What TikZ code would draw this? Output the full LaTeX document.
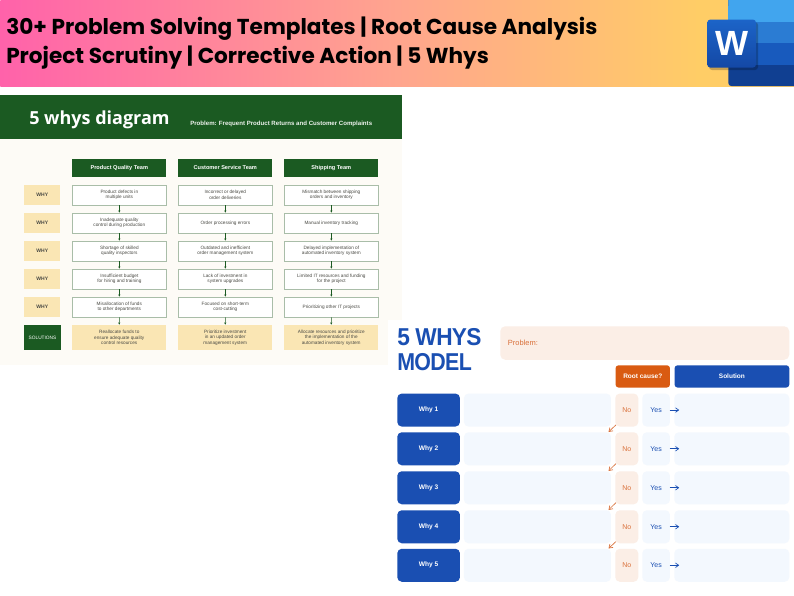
\documentclass[tikz,border=0pt]{standalone}
\usepackage{fontspec}
\setmainfont{Liberation Sans}
\newfontfamily\ttlfont{Poppins}
\newfontfamily\subfont{Open Sans}
\newfontfamily\modelfont[LetterSpace=-3]{Liberation Sans}
\usetikzlibrary{arrows.meta}
\definecolor{gdark}{HTML}{1B5A22}
\definecolor{cream}{HTML}{FDFBF6}
\definecolor{tagy}{HTML}{FAE6B4}
\definecolor{gline}{HTML}{A9BDA8}
\definecolor{txt}{HTML}{4A4A44}
\definecolor{mblue}{HTML}{1A4FB2}
\definecolor{morange}{HTML}{D95B12}
\definecolor{peach}{HTML}{FBEEE6}
\definecolor{pale}{HTML}{F3F8FE}
\definecolor{nooc}{HTML}{D9703A}
\definecolor{bana}{HTML}{FF62AA}
\definecolor{banb}{HTML}{FFA58E}
\definecolor{banc}{HTML}{FFCD66}
\pgfdeclarehorizontalshading{bannershade}{100bp}{color(0bp)=(bana); color(25bp)=(bana); color(50bp)=(banb); color(69bp)=(banc); color(100bp)=(banc)}
\def\u{0.75pt}
\newcommand{\pxfont}[2]{\fontsize{\fpeval{#1*0.75}pt}{\fpeval{#2*0.75}pt}\selectfont}
\tikzset{
 x=0.75pt,y=-0.75pt,
 box/.style={inner sep=0pt,align=center,anchor=north west},
 teamhead/.style={box,fill=gdark,text=white,font=\pxfont{5.6}{7}\bfseries,minimum width=94*\u,minimum height=18*\u},
 whytag/.style={box,fill=tagy,text=txt,font=\pxfont{5}{6}\bfseries,minimum width=36*\u,minimum height=19.5*\u},
 soltag/.style={box,fill=gdark,text=white,font=\pxfont{4.8}{6},minimum width=36.5*\u,minimum height=25*\u},
 cause/.style={box,draw=gline,line width=0.5pt,fill=white,text=txt,font=\pxfont{4.7}{5.3},minimum width=94*\u,minimum height=20*\u},
 sol/.style={box,fill=tagy,text=txt,font=\pxfont{4.7}{5.5},minimum width=94*\u,minimum height=25*\u},
 down/.style={draw=gdark,line width=0.35pt,-{Stealth[length=1.6pt,width=1.6pt]}},
 rbox/.style={box,rounded corners=4.5*\u,minimum height=33*\u},
 whybtn/.style={rbox,fill=mblue,text=white,font=\pxfont{6.6}{8}\bfseries,minimum width=62.7*\u},
 palebox/.style={rbox,fill=pale,minimum width=147*\u},
 nobox/.style={rbox,fill=peach,text=nooc,font=\pxfont{7}{8},minimum width=23*\u},
 yesbox/.style={rbox,fill=pale,text=mblue,font=\pxfont{7}{8},minimum width=27.7*\u},
 solbox/.style={rbox,fill=pale,minimum width=115*\u},
 noarrow/.style={draw=nooc,line width=0.5pt,-{Straight Barb[length=2.6pt,width=3.4pt]}},
 yesarrow/.style={draw=mblue,line width=0.5pt,-{Straight Barb[length=2.4pt,width=3.4pt]}},
 headbtn/.style={box,rounded corners=3*\u,minimum height=22.3*\u,text=white,font=\pxfont{6.5}{8}\bfseries}
}
\begin{document}
\begin{tikzpicture}
\useasboundingbox (0,0) rectangle (794,596);
% banner
\node[box,minimum width=794*\u,minimum height=86*\u,shade,shading=bannershade] (banner) at (0,0) {};
\node[anchor=base west,inner sep=0pt,font=\ttlfont\pxfont{21.6}{28}\bfseries,text=black] (t1) at (6,34.5) {30+ Problem Solving Templates | Root Cause Analysis};
\node[anchor=base west,inner sep=0pt,font=\ttlfont\pxfont{21.6}{28}\bfseries,text=black] (t2) at (6,63.5) {Project Scrutiny | Corrective Action | 5 Whys};
% word icon
\fill[rounded corners=3*\u,fill={rgb,255:red,16;green,63;blue,145}] (728.3,-6) rectangle (800,86);
\fill[fill={rgb,255:red,65;green,165;blue,238},rounded corners=3*\u] (728.3,-6) rectangle (794,30);
\fill[fill={rgb,255:red,65;green,165;blue,238}] (728.3,6) rectangle (794,21.7);
\fill[fill={rgb,255:red,43;green,124;blue,211}] (728.3,21.7) rectangle (794,43);
\fill[fill={rgb,255:red,24;green,90;blue,189}] (728.3,43) rectangle (794,65);
\fill[fill=black,opacity=0.22,rounded corners=3*\u] (709,22) rectangle (758,70);
\node[box,rounded corners=3*\u,minimum width=48.7*\u,minimum height=48*\u,top color={rgb,255:red,28;green,100;blue,200},bottom color={rgb,255:red,20;green,72;blue,165},text=white,font=\pxfont{35}{36}] (wordicon) at (707,19.3) {\bfseries W};
% left sheet
\fill[cream] (0,139) rectangle (402,365);
\node[box,fill=gdark,minimum width=402*\u,minimum height=44*\u] (greenhead) at (0,95) {};
\node[anchor=west,inner sep=0pt,text=white,font=\subfont\pxfont{18}{20}\bfseries] (dtitle) at (29,120) {5 whys diagram};
\node[anchor=west,inner sep=0pt,text=white!92!gdark,font=\pxfont{6.1}{8}\bfseries] (dprob) at (190,123.5) {Problem: Frequent Product Returns and Customer Complaints};
\node[teamhead] (h1) at (72,158.7) {Product Quality Team};
\node[teamhead] (h2) at (178,158.7) {Customer Service Team};
\node[teamhead] (h3) at (284,158.7) {Shipping Team};
\node[whytag] (w1) at (24,185) {WHY};
\node[whytag] (w2) at (24,213) {WHY};
\node[whytag] (w3) at (24,241) {WHY};
\node[whytag] (w4) at (24,269) {WHY};
\node[whytag] (w5) at (24,297) {WHY};
\node[soltag] (w6) at (24,324.6) {SOLUTIONS};
\node[cause] (a1) at (72,184.6) {Product defects in\\multiple units};
\node[cause] (a2) at (72,212.6) {Inadequate quality\\control during production};
\node[cause] (a3) at (72,240.6) {Shortage of skilled\\quality inspectors};
\node[cause] (a4) at (72,268.6) {Insufficient budget\\for hiring and training};
\node[cause] (a5) at (72,296.6) {Misallocation of funds\\to other departments};
\node[sol] (a6) at (72,324.6) {Reallocate funds to\\ensure adequate quality\\control resources};
\node[cause] (b1) at (178,184.6) {Incorrect or delayed\\order deliveries};
\node[cause] (b2) at (178,212.6) {Order processing errors};
\node[cause] (b3) at (178,240.6) {Outdated and inefficient\\order management system};
\node[cause] (b4) at (178,268.6) {Lack of investment in\\system upgrades};
\node[cause] (b5) at (178,296.6) {Focused on short-term\\cost-cutting};
\node[sol] (b6) at (178,324.6) {Prioritize investment\\in an updated order\\management system};
\node[cause] (c1) at (284,184.6) {Mismatch between shipping\\orders and inventory};
\node[cause] (c2) at (284,212.6) {Manual inventory tracking};
\node[cause] (c3) at (284,240.6) {Delayed implementation of\\automated inventory system};
\node[cause] (c4) at (284,268.6) {Limited IT resources and funding\\for the project};
\node[cause] (c5) at (284,296.6) {Prioritizing other IT projects};
\node[sol] (c6) at (284,324.6) {Allocate resources and prioritize\\the implementation of the\\automated inventory system};
\foreach \c in {a,b,c}{
 \foreach \i/\j in {1/2,2/3,3/4,4/5,5/6}{
  \draw[down] (\c\i.south) -- (\c\j.north);
 }
}
% right sheet
\fill[white] (388,320) rectangle (794,596);
\node[anchor=north west,inner sep=0pt,align=left,text=mblue,font=\modelfont\pxfont{24.4}{25}\bfseries] (mtitle) at (397,328) {\scalebox{.93}[1]{5 WHYS}\\\scalebox{.875}[1]{MODEL}};
\node[box,rounded corners=5*\u,fill=peach,minimum width=289*\u,minimum height=33.5*\u] (prob) at (500,326) {};
\node[anchor=west,inner sep=0pt,text=nooc,font=\pxfont{7.5}{9}] (probt) at (507.7,342.7) {Problem:};
\node[headbtn,fill=morange,minimum width=54.4*\u] (rc) at (615.3,365) {Root cause?};
\node[headbtn,fill=mblue,minimum width=114.7*\u] (so) at (674.3,365) {Solution};
\foreach \i/\y in {1/393.3,2/432,3/471,4/510,5/548.5}{
 \node[whybtn] (why\i) at (397,\y) {Why \i};
 \node[palebox] (pan\i) at (463.7,\y) {};
 \node[nobox] (no\i) at (615,\y) {No};
 \node[yesbox] (yes\i) at (642,\y) {Yes};
 \node[solbox] (solp\i) at (674,\y) {};
 \coordinate (ya\i) at ([xshift=9*\u]yes\i.east);
 \draw[yesarrow] ([xshift=-0.5*\u]yes\i.east) -- (ya\i);
}
\foreach \i/\j in {1/2,2/3,3/4,4/5}{
 \coordinate (ns\i) at ([shift={(1,-2)}]no\i.south west);
 \coordinate (ne\i) at ([shift={(-6.5,0)}]no\j.north west);
 \draw[noarrow] (ns\i) -- (ne\i);
}
\end{tikzpicture}
\end{document}
